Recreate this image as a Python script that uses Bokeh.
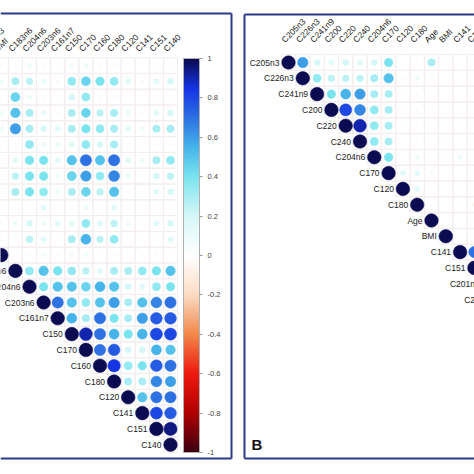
import numpy as np
from bokeh.plotting import figure
from bokeh.models import Range1d, ColumnDataSource, LinearColorMapper, ColorBar, FixedTicker
from bokeh.core.properties import value
from bokeh.embed import file_html
from bokeh.resources import INLINE

# ---------------- data ----------------
# Panel A variable order (the first entries fall outside the cropped view)
vars_a = ["Age", "C200", "C220", "C240", "C241n9", "C201n9", "C181n9", "C182n6",
          "C183n3", "C225n3", "C226n3", "C205n3", "BMI", "C183n6", "C204n6", "C203n6",
          "C161n7", "C150", "C170", "C160", "C180", "C120", "C141", "C151", "C140"]
# Panel A, upper rows 0..11, columns 12..24 (BMI .. C140)
a_first_col = 12
a_upper = [
    [0.05, 0.05, 0.10, 0.05, 0.03, 0.08, 0.10, 0.05, 0.05, 0.02, 0.02, 0.03, 0.03],
    [0.10, 0.30, 0.25, 0.12, 0.05, 0.35, 0.45, 0.40, 0.35, 0.15, 0.05, 0.15, 0.20],
    [0.05, 0.45, 0.10, 0.05, 0.03, 0.20, 0.35, 0.05, 0.05, 0.03, 0.02, 0.03, 0.03],
    [0.10, 0.50, 0.30, 0.12, 0.05, 0.30, 0.45, 0.25, 0.30, 0.10, 0.05, 0.15, 0.20],
    [0.10, 0.60, 0.30, 0.20, 0.15, 0.30, 0.40, 0.35, 0.30, 0.15, 0.10, 0.30, 0.30],
    [0.03, 0.05, 0.35, 0.10, 0.10, 0.15, 0.35, 0.20, 0.30, 0.05, 0.03, 0.05, 0.05],
    [0.05, 0.15, 0.40, 0.40, 0.15, 0.50, 0.70, 0.50, 0.70, 0.15, 0.10, 0.30, 0.35],
    [0.05, 0.25, 0.40, 0.40, 0.10, 0.45, 0.60, 0.35, 0.65, 0.10, 0.05, 0.20, 0.25],
    [0.05, 0.30, 0.40, 0.35, 0.10, 0.30, 0.45, 0.25, 0.50, 0.05, 0.05, 0.15, 0.20],
    [0.02, 0.03, 0.03, 0.15, 0.05, 0.05, 0.10, 0.05, 0.15, 0.05, 0.03, 0.05, 0.05],
    [0.05, 0.10, 0.20, 0.10, 0.15, 0.15, 0.35, 0.15, 0.25, 0.08, 0.05, 0.15, 0.20],
    [0.05, 0.05, 0.25, 0.15, 0.05, 0.30, 0.55, 0.25, 0.35, 0.05, 0.05, 0.05, 0.15],
]
# Panel A, triangle rows 12..24, from the diagonal to column 24
a_tri = [
    [1, 0.03, 0.05, 0.08, 0.05, 0.08, 0.08, 0.05, 0.05, 0.05, 0.05, 0.05, 0.05],
    [1, 0.35, 0.50, 0.40, 0.35, 0.25, 0.15, 0.30, 0.30, 0.35, 0.40, 0.50],
    [1, 0.40, 0.50, 0.50, 0.45, 0.55, 0.50, 0.20, 0.15, 0.35, 0.40],
    [1, 0.70, 0.50, 0.35, 0.50, 0.60, 0.30, 0.50, 0.65, 0.70],
    [1, 0.55, 0.30, 0.70, 0.40, 0.30, 0.60, 0.75, 0.75],
    [1, 0.90, 0.70, 0.55, 0.40, 0.55, 0.80, 0.80],
    [1, 0.70, 0.75, 0.20, 0.20, 0.55, 0.50],
    [1, 0.85, 0.35, 0.40, 0.75, 0.70],
    [1, 0.30, 0.30, 0.65, 0.60],
    [1, 0.50, 0.70, 0.70],
    [1, 0.80, 0.75],
    [1, 0.95],
    [1],
]

# Panel B variable order (later entries fall outside the cropped view)
vars_b = ["C205n3", "C226n3", "C241n9", "C200", "C220", "C240", "C204n6", "C170",
          "C120", "C180", "Age", "BMI", "C141", "C151", "C201n9", "C203n6"]
# Panel B, rows from the diagonal up to column 13
b_tri = [
    [1, 0.60, 0.20, 0.15, 0.20, 0.15, 0.20, 0.40, 0.02, 0.03, 0.30, 0.03, 0.02, 0.02],
    [1, 0.35, 0.25, 0.25, 0.25, 0.30, 0.50, 0.05, 0.10, 0.05, 0.02, 0.02, 0.02],
    [1, 0.40, 0.55, 0.60, 0.30, 0.30, 0.03, 0.05, 0.03, 0.02, 0.02, 0.02],
    [1, 0.80, 0.65, 0.35, 0.30, 0.05, 0.05, 0.03, 0.02, 0.02, 0.02],
    [1, 0.90, 0.35, 0.30, 0.03, 0.03, 0.02, 0.02, 0.02, 0.02],
    [1, 0.35, 0.30, 0.02, 0.02, 0.02, 0.05, 0.02, 0.02],
    [1, 0.40, 0.02, 0.10, 0.02, 0.05, 0.10, 0.02],
    [1, 0.15, 0.15, 0.08, 0.02, 0.02, 0.02],
    [1, 0.15, 0.02, 0.02, 0.02, 0.02],
    [1, 0.02, 0.02, 0.02, -0.06],
    [1, 0.02, 0.02, 0.02],
    [1, 0.02, 0.02],
    [1, 0.70],
    [1],
    [1],
    [1],
]
bar_ticks = [-1, -0.8, -0.6, -0.4, -0.2, 0, 0.2, 0.4, 0.6, 0.8, 1]
bar_labels = ["-1", "-0.8", "-0.6", "-0.4", "-0.2", "0", "0.2", "0.4", "0.6", "0.8", "1"]

# ---------------- layout (screen px) ----------------
W = H = 474
A = dict(x0=170 - 24 * 14.1, dx=14.1, y0=65.0, dy=15.8, n=25, top_gap=4)
B = dict(x0=288.0, dx=14.3, y0=62.0, dy=15.8, n=25, top_gap=10)

stops = [(-1.0, "#3d0012"), (-0.8, "#b00000"), (-0.6, "#ee1a10"), (-0.4, "#f2884a"),
         (-0.2, "#fbdcc4"), (0.0, "#ffffff"), (0.2, "#d6f7f8"), (0.4, "#7ae4ee"),
         (0.55, "#46b4ea"), (0.7, "#2e72e2"), (0.85, "#1534e4"), (1.0, "#0b0b52")]


def hex2rgb(h):
    return np.array([int(h[1:3], 16), int(h[3:5], 16), int(h[5:7], 16)], float)


def build_palette(n=256):
    xs = np.array([s[0] for s in stops])
    cs = np.array([hex2rgb(s[1]) for s in stops])
    out = []
    for t in np.linspace(-1, 1, n):
        rgb = [np.interp(t, xs, cs[:, k]) for k in range(3)]
        out.append("#%02x%02x%02x" % tuple(int(round(c)) for c in rgb))
    return out


palette = build_palette()
mapper = LinearColorMapper(palette=palette, low=-1, high=1)

cells = dict(x=[], y=[], r=[], s=[])
grid = dict(x=[], y=[], w=[], h=[])


def add_cell(P, i, j, r):
    cells["x"].append(P["x0"] + j * P["dx"])
    cells["y"].append(P["y0"] + i * P["dy"])
    cells["r"].append(r)
    cells["s"].append(13.6 * np.sqrt(abs(r)))


for i, row in enumerate(a_upper):
    for k, r in enumerate(row):
        add_cell(A, i, a_first_col + k, r)
for k, row in enumerate(a_tri):
    i = a_first_col + k
    for m, r in enumerate(row):
        add_cell(A, i, i + m, r)
for i, row in enumerate(b_tri):
    for m, r in enumerate(row):
        add_cell(B, i, i + m, r)

for P in (A, B):
    for i in range(P["n"]):
        for j in range(i, P["n"]):
            grid["x"].append(P["x0"] + j * P["dx"])
            grid["y"].append(P["y0"] + i * P["dy"])
            grid["w"].append(P["dx"])
            grid["h"].append(P["dy"])

# labels (only those that reach into the cropped view)
rowlab = dict(x=[], y=[], t=[])
collab = dict(x=[], y=[], t=[])
for P, names in ((A, vars_a), (B, vars_b)):
    for i, name in enumerate(names):
        xc = P["x0"] + i * P["dx"]
        if 0 < xc - 9 and xc - 9 - 5 * len(name) < W:
            rowlab["x"].append(xc - 9)
            rowlab["y"].append(P["y0"] + i * P["dy"])
            rowlab["t"].append(name)
        if -20 < xc < W:
            collab["x"].append(xc - 2)
            collab["y"].append(P["y0"] - P["dy"] / 2 - P["top_gap"])
            collab["t"].append(name)

# ---------------- figure ----------------
p = figure(width=W, height=H, x_range=Range1d(0, W), y_range=Range1d(H, 0),
           output_backend="svg", toolbar_location=None, min_border=0)
p.axis.visible = False
p.grid.visible = False
p.outline_line_color = None
p.background_fill_color = "white"

p.rect(x="x", y="y", width="w", height="h", source=ColumnDataSource(grid),
       fill_color=None, line_color="#f4edef", line_width=1)
p.scatter(x="x", y="y", size="s", source=ColumnDataSource(cells),
          fill_color={"field": "r", "transform": mapper},
          line_color={"field": "r", "transform": mapper}, line_width=0.5)

p.text(x="x", y="y", text="t", source=ColumnDataSource(rowlab),
       text_align="right", text_baseline="middle", text_font_size="8.5px",
       text_font=value("Liberation Sans"), text_color="#222222")
p.text(x="x", y="y", text="t", source=ColumnDataSource(collab), angle=np.pi / 4,
       text_align="left", text_baseline="bottom", text_font_size="8.5px",
       text_font=value("Liberation Sans"), text_color="#222222")

# panel frames
frame_col = "#2c3a8a"
p.segment(x0=[0, 231, 0, 244, 244, 244], y0=[13, 13, 458, 14, 14, 458],
          x1=[231, 231, 231, 244, 480, 480], y1=[13, 458, 458, 458, 14, 458],
          line_color=frame_col, line_width=2)

p.text(x=[251], y=[444], text=["B"], text_align="left", text_baseline="middle",
       text_font_size="15px", text_font_style="bold",
       text_font=value("Liberation Sans"), text_color="#111111")

cb = ColorBar(color_mapper=mapper, ticker=FixedTicker(ticks=bar_ticks),
              major_label_overrides={t: l for t, l in zip(bar_ticks, bar_labels)},
              width=16, height=394, location=(183, H - 452), padding=0,
              background_fill_alpha=0, border_line_color=None,
              bar_line_color="#b0b0b0", major_tick_in=0, major_tick_out=3,
              major_tick_line_color="#999999", label_standoff=5,
              major_label_text_font_size="7.5px", major_label_text_color="#444444",
              major_label_text_font="Liberation Sans")
p.add_layout(cb, "center")

open("out.html", "w").write(file_html(p, INLINE))
